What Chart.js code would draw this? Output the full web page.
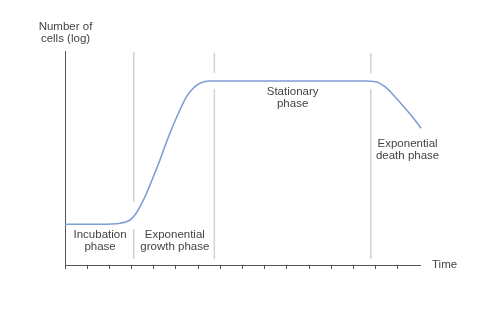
<!DOCTYPE html>
<html>
<head>
<meta charset="utf-8">
<script src="https://cdn.jsdelivr.net/npm/chart.js@4"></script>
<style>
  html, body { margin: 0; padding: 0; background: #fff; }
  #c { display: block; }
</style>
</head>
<body>
<canvas id="c" width="500" height="311"></canvas>
<script>
// ---- Data (time units, relative log cell count) ----
const curveTime  = [0, 1.58, 2.48, 2.93, 3.15, 3.38, 3.68, 3.98, 4.28, 4.58, 4.88, 5.18, 5.48, 5.78, 6.08, 6.53, 7.43, 13.5, 14.0, 14.42, 14.87, 15.32, 15.77, 16.05];
const curveCells = [40.7, 40.7, 41.7, 45, 50, 58.3, 72, 88.3, 105, 123.3, 140, 155, 168.3, 176.7, 181.7, 184, 184, 184, 183.3, 178.3, 168.3, 157, 145, 136.7];

const phaseBoundaries = [3.1, 6.73, 13.78];
const phaseNames = [
  ["Incubation", "phase"],
  ["Exponential", "growth phase"],
  ["Stationary", "phase"],
  ["Exponential", "death phase"]
];
const phaseLabelTime  = [1.58, 4.95, 10.26, 15.44];
const phaseLabelCells = [30, 30, 173, 121];

const yAxisTitle = ["Number of", "cells (log)"];
const xAxisTitle = "Time";

const xMin = 0, xMax = 16, yMin = 0, yMax = 214;
const xTicks = Array.from({length: xMax - xMin + 1}, (_, i) => xMin + i);

// separator segments with gaps where curve / labels pass
const sepGaps = [
  [[213, 63], [36, 6]],
  [[212, 192], [176, 6]],
  [[212, 192], [176, 6]]
];

const curveData = curveTime.map((t, i) => ({x: t, y: curveCells[i]}));

const sepDatasets = [];
phaseBoundaries.forEach((bx, i) => {
  sepGaps[i].forEach(seg => {
    sepDatasets.push({
      data: [{x: bx, y: seg[0]}, {x: bx, y: seg[1]}],
      borderColor: '#d2d2d2',
      borderWidth: 1.5,
      pointRadius: 0,
      showLine: true,
      tension: 0
    });
  });
});

const FONT = '11.5px "Liberation Sans", Arial, Helvetica, sans-serif';
const TEXT = '#444444';

const textPlugin = {
  id: 'texts',
  afterDraw(chart) {
    const ctx = chart.ctx;
    const xs = chart.scales.x, ys = chart.scales.y;
    ctx.save();
    ctx.font = FONT;
    ctx.fillStyle = TEXT;
    ctx.textBaseline = 'middle';
    ctx.textAlign = 'center';
    const lh = 12;
    phaseNames.forEach((lines, i) => {
      const px = xs.getPixelForValue(phaseLabelTime[i]);
      const py = ys.getPixelForValue(phaseLabelCells[i]);
      lines.forEach((ln, j) => ctx.fillText(ln, px, py + j * lh));
    });
    // y axis title above axis
    const ax = xs.getPixelForValue(xMin);
    const top = ys.getPixelForValue(yMax);
    yAxisTitle.forEach((ln, j) => ctx.fillText(ln, ax + 0.5, top - 24 + j * lh));
    // x axis title to right of axis
    ctx.textAlign = 'left';
    ctx.fillText(xAxisTitle, xs.right + 12, ys.getPixelForValue(yMin));
    ctx.restore();
  }
};

new Chart(document.getElementById('c'), {
  type: 'scatter',
  data: {
    datasets: [
      ...sepDatasets,
      {
        data: curveData,
        borderColor: '#7d9fd4',
        borderWidth: 1.6,
        pointRadius: 0,
        showLine: true,
        tension: 0.4,
        cubicInterpolationMode: 'monotone',
        clip: false
      }
    ]
  },
  options: {
    responsive: false,
    animation: false,
    events: [],
    layout: { padding: { left: 65, top: 51, right: 80, bottom: 42 } },
    plugins: { legend: { display: false }, tooltip: { enabled: false } },
    scales: {
      x: {
        type: 'linear',
        min: xMin, max: xMax,
        afterBuildTicks: (scale) => { scale.ticks = xTicks.map(v => ({value: v})); },
        ticks: { display: false },
        grid: {
          drawOnChartArea: false,
          drawTicks: true,
          tickLength: 4,
          color: (c) => (c.tick && c.tick.value === xMax) ? 'rgba(0,0,0,0)' : '#555',
          tickColor: (c) => (c.tick && c.tick.value === xMax) ? 'rgba(0,0,0,0)' : '#555',
          lineWidth: 1
        },
        border: { display: true, color: '#555', width: 1 }
      },
      y: {
        type: 'linear',
        min: yMin, max: yMax,
        ticks: { display: false },
        grid: { display: false, drawTicks: false },
        border: { display: true, color: '#555', width: 1 }
      }
    }
  },
  plugins: [textPlugin]
});
</script>
</body>
</html>
